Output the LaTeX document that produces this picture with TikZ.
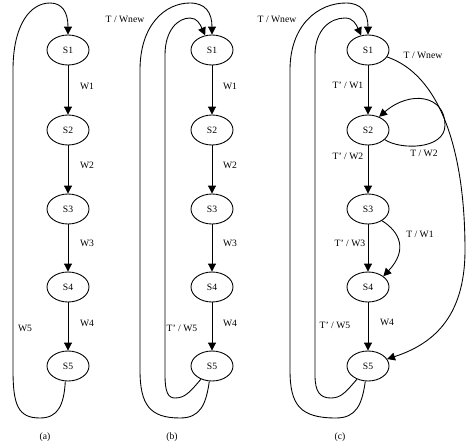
\documentclass[tikz,border=0pt]{standalone}
\usepackage{fontspec}
\setmainfont{Liberation Serif}
\usetikzlibrary{arrows.meta,shapes.geometric}

\begin{document}
\begin{tikzpicture}[x=0.02cm,y=-0.02cm,font=\fontsize{5.5}{6.5}\selectfont,
  state/.style={draw, ellipse, line width=0.5pt, minimum width=0.84cm, minimum height=0.6cm, inner sep=0pt},
  edge/.style={-{Triangle[length=4.5pt,width=4.5pt]}, line width=0.5pt}]
  \useasboundingbox (0,0) rectangle (474,443);

  % states of the three machines
  \foreach \px/\pn in {68/a,212/b,368/c} {
    \foreach \i/\yy in {1/50,2/130,3/209,4/287,5/366} {
      \node[state] (\pn\i) at (\px,\yy) {S\i};
    }
    \foreach \i/\j in {1/2,2/3,3/4,4/5} {
      \draw[edge] (\pn\i) -- (\pn\j);
    }
  }

  \foreach \pn/\px in {a/87,b/230} {
    \foreach \i/\yy in {1/86,2/165,3/243,4/323} {
      \node (\pn w\i) at (\px,\yy) {W\i};
    }
  }

  % (a)
  \draw[edge] (a5.-100) .. controls (64,405) and (58,418) .. (40,418)
    .. controls (18,418) and (13,405) .. (13,370) -- (13,70)
    .. controls (13,25) and (30,3) .. (50,3)
    .. controls (62,3) and (68,12) .. (a1.north);
  \node (aw5) at (25,328) {W5};
  \node (acap) at (45,437) {(a)};

  % (b)
  \draw[edge] (b5.-100) .. controls (206,405) and (200,418) .. (180,418)
    .. controls (150,418) and (140,405) .. (140,370) -- (140,70)
    .. controls (140,25) and (165,3) .. (190,3)
    .. controls (205,3) and (212,12) .. (b1.north);
  \draw[edge] (b5.-130) .. controls (190,392) and (185,398) .. (175,398)
    .. controls (168,398) and (165,392) .. (165,375) -- (165,55)
    .. controls (165,30) and (178,18) .. (190,18)
    .. controls (197,18) and (200,24) .. (b1.115);
  \node (btn) at (125,19) {T / Wnew};
  \node (bw5) at (182,328) {T' / W5};
  \node (bcap) at (172,437) {(b)};

  % (c)
  \draw[edge] (c5.-100) .. controls (362,405) and (356,418) .. (336,418)
    .. controls (300,418) and (290,405) .. (290,370) -- (290,70)
    .. controls (290,25) and (318,3) .. (346,3)
    .. controls (361,3) and (368,12) .. (c1.north);
  \draw[edge] (c5.-130) .. controls (346,392) and (341,398) .. (331,398)
    .. controls (320,398) and (315,392) .. (315,375) -- (315,55)
    .. controls (315,30) and (330,18) .. (345,18)
    .. controls (353,18) and (356,24) .. (c1.115);
  \draw[edge] (c1.-20) .. controls (440,75) and (465,150) .. (465,250)
    .. controls (465,320) and (430,345) .. (c5.20);
  \draw[edge] (c2.-30) .. controls (400,150) and (445,150) .. (445,125)
    .. controls (445,95) and (410,90) .. (c2.50);
  \draw[edge] (c3.-40) .. controls (400,232) and (408,250) .. (c4.35);

  \node (ctn) at (277,19) {T / Wnew};
  \node (ctn2) at (423,55) {T / Wnew};
  \node (cw1) at (348,85) {T' / W1};
  \node (cw2) at (348,156) {T' / W2};
  \node (cw3) at (350,243) {T' / W3};
  \node (ctw2) at (424,153) {T / W2};
  \node (ctw1) at (420,234) {T / W1};
  \node (cw4) at (387,322) {W4};
  \node (cw5) at (335,325) {T' / W5};
  \node (ccap) at (340,437) {(c)};
\end{tikzpicture}
\end{document}
